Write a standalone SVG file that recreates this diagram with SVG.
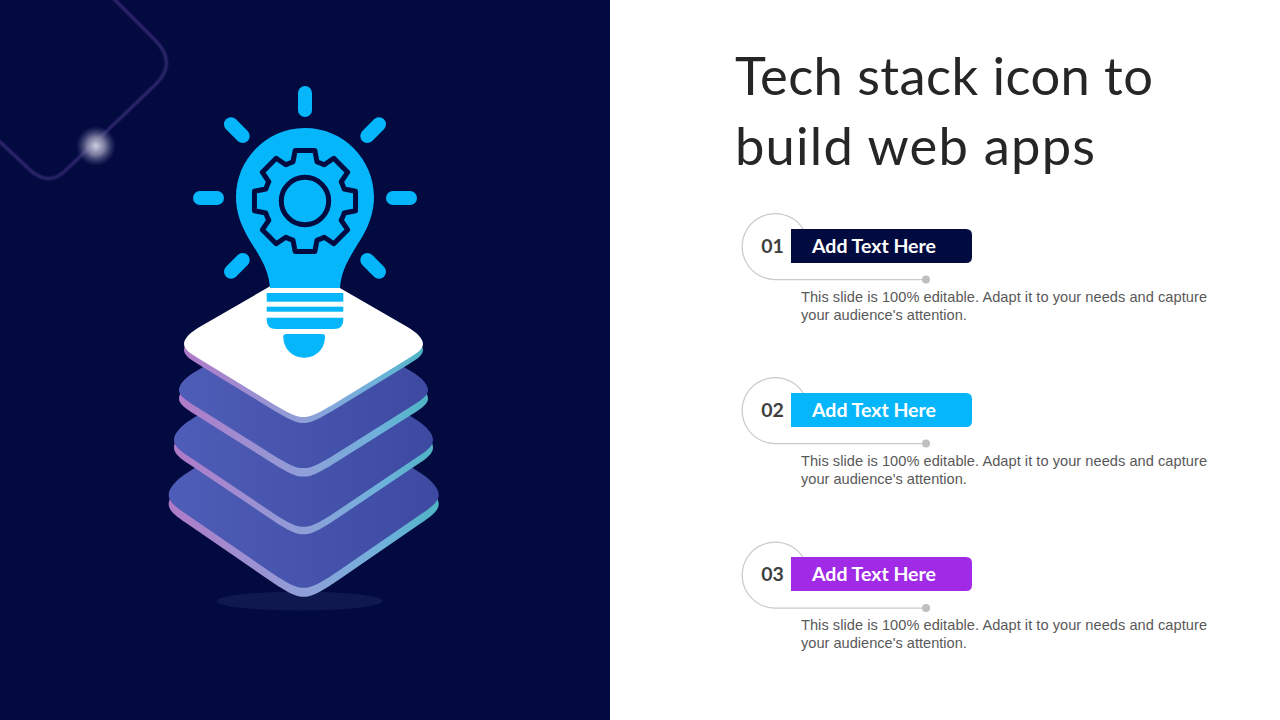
<svg xmlns="http://www.w3.org/2000/svg" width="1280" height="720" viewBox="0 0 1280 720">
<style>
.ray{stroke:#06b6fb;stroke-width:14;stroke-linecap:round;fill:none}
.bulb{fill:#06b6fb}
.gear{fill:none;stroke:#020b3f;stroke-width:5;stroke-linejoin:round}
.title{font-family:"Lato","Carlito","Liberation Sans",sans-serif;font-size:52.5px;fill:#262626}
.num{font-family:"Lato","Liberation Sans",sans-serif;font-weight:700;font-size:19.5px;fill:#404040}
.lab{font-family:"Lato","Liberation Sans",sans-serif;font-weight:700;font-size:19.5px;fill:#fff}
.body{font-family:"Liberation Sans",Arial,sans-serif;font-size:14.6px;fill:#595959}
.arc{fill:none;stroke:#c9c9c9;stroke-width:1.2}
.dot{fill:#bfbfbf}
</style>
<defs>
<path id="plate" d="M0 -77L104 -17C114 -11.2 119.5 -5 119.5 0C119.5 5 114 9 104 15L32 59C12 71.2 6 73 0 73C-6 73 -12 71.2 -32 59L-104 15C-114 9 -119.5 5 -119.5 0C-119.5 -5 -114 -11.2 -104 -17Z"/>
<linearGradient id="rim" x1="0" x2="1" y1="0" y2="0"><stop offset="0" stop-color="#b07ac8"/><stop offset=".5" stop-color="#8f9fd8"/><stop offset=".8" stop-color="#6fb2dc"/><stop offset="1" stop-color="#4fb4c4"/></linearGradient>
<linearGradient id="blue" x1="0" x2="1" y1="0" y2="0"><stop offset="0" stop-color="#4e5db7"/><stop offset="1" stop-color="#3e4aa2"/></linearGradient>
<radialGradient id="glow"><stop offset="0" stop-color="#cfcfe0"/><stop offset=".45" stop-color="#8f8fb0" stop-opacity=".85"/><stop offset="1" stop-color="#5a5a8c" stop-opacity="0"/></radialGradient>
<filter id="soft" x="-10%" y="-10%" width="120%" height="120%"><feGaussianBlur stdDeviation=".8"/></filter>
</defs>
<rect width="1280" height="720" fill="#fff"/>
<rect id="panel" width="610" height="720" fill="#020a40"/>
<g id="decor">
<path d="M113 -2L155 40Q178 63 155 85L68 168Q50 188 30 170L-2 140" fill="none" stroke="#3a2f78" stroke-width="2.5" filter="url(#soft)"/>
<circle cx="96" cy="146" r="20" fill="url(#glow)"/>
</g>
<g id="stack">
<ellipse cx="299.5" cy="601" rx="83" ry="9.5" fill="#101850"/>
<g id="layer4"><use href="#plate" fill="url(#rim)" transform="translate(303.7 504) scale(1.13 1.27)"/><use href="#plate" fill="url(#blue)" transform="translate(303.7 495) scale(1.13 1.27)"/></g>
<g id="layer3"><use href="#plate" fill="url(#rim)" transform="translate(303.5 447.5) scale(1.084 1.19)"/><use href="#plate" fill="url(#blue)" transform="translate(303.5 440) scale(1.084 1.19)"/></g>
<g id="layer2"><use href="#plate" fill="url(#rim)" transform="translate(303.5 398.5) scale(1.042 1.07)"/><use href="#plate" fill="url(#blue)" transform="translate(303.5 390) scale(1.042 1.07)"/></g>
<g id="layer1"><use href="#plate" fill="url(#rim)" transform="translate(303.5 350)"/><use href="#plate" fill="#fff" transform="translate(303.5 344)"/></g>
</g>
<g id="bulb">
<line class="ray" x1="305" y1="93" x2="305" y2="110"/>
<line class="ray" x1="200" y1="198" x2="217" y2="198"/>
<line class="ray" x1="393" y1="198" x2="410" y2="198"/>
<line class="ray" x1="231" y1="124.3" x2="242.7" y2="136"/>
<line class="ray" x1="379" y1="124.3" x2="367.3" y2="136"/>
<line class="ray" x1="231" y1="271.7" x2="242.7" y2="260"/>
<line class="ray" x1="379" y1="271.7" x2="367.3" y2="260"/>
<path class="bulb" d="M305 128C343 128 374 159 374 197C374 222 360 240 353 252C345 265 341 275 340 288L270 288C269 275 265 265 257 252C250 240 236 222 236 197C236 159 267 128 305 128Z"/>
<rect class="bulb" x="266.7" y="293" width="76.6" height="8.7"/>
<rect class="bulb" x="266.7" y="306.7" width="76.6" height="5"/>
<path class="bulb" d="M266.7 317.7H343.3V320Q343.3 329 334 329H276Q266.7 329 266.7 320Z"/>
<path class="bulb" d="M286 334H322.5Q325 334 325 336.5C325 349 316 357.7 304.2 357.7C292.5 357.7 283.3 349 283.3 336.5Q283.3 334 286 334Z"/>
<g transform="translate(305 201)">
<path class="gear" d="M-11.99 -39.2L-9.83 -50.55H9.83L11.99 -39.2A41 41 0 0 1 19.25 -36.2L28.8 -42.7L42.7 -28.8L36.2 -19.25A41 41 0 0 1 39.2 -11.99L50.55 -9.83V9.83L39.2 11.99A41 41 0 0 1 36.2 19.25L42.7 28.8L28.8 42.7L19.25 36.2A41 41 0 0 1 11.99 39.2L9.83 50.55H-9.83L-11.99 39.2A41 41 0 0 1 -19.25 36.2L-28.8 42.7L-42.7 28.8L-36.2 19.25A41 41 0 0 1 -39.2 11.99L-50.55 9.83V-9.83L-39.2 -11.99A41 41 0 0 1 -36.2 -19.25L-42.7 -28.8L-28.8 -42.7L-19.25 -36.2A41 41 0 0 1 -11.99 -39.2Z"/>
<circle class="gear" r="23.7"/>
</g>
</g>
<g id="title">
<text class="title" x="735" y="95" textLength="418">Tech stack icon to</text>
<text class="title" x="735" y="165" textLength="360">build web apps</text>
</g>
<g id="connectors">
<path class="arc" d="M803.1 229A33 33 0 1 0 775 279.6H926"/>
<circle class="dot" cx="926" cy="279.6" r="4"/>
<path class="arc" d="M803.1 393A33 33 0 1 0 775 443.6H926"/>
<circle class="dot" cx="926" cy="443.6" r="4"/>
<path class="arc" d="M803.1 557.5A33 33 0 1 0 775 608.1H926"/>
<circle class="dot" cx="926" cy="608.1" r="4"/>
</g>
<g id="item1">
<text class="num" x="772.5" y="253" text-anchor="middle">01</text>
<path d="M791 229H966Q972 229 972 235V257Q972 263 966 263H791Z" fill="#020b3f"/>
<text class="lab" x="812" y="253">Add Text Here</text>
<text class="body" x="801" y="302" textLength="406">This slide is 100% editable. Adapt it to your needs and capture</text>
<text class="body" x="801" y="320">your audience's attention.</text>
</g>
<g id="item2">
<text class="num" x="772.5" y="417" text-anchor="middle">02</text>
<path d="M791 393H966Q972 393 972 399V421Q972 427 966 427H791Z" fill="#06b6fb"/>
<text class="lab" x="812" y="417">Add Text Here</text>
<text class="body" x="801" y="466" textLength="406">This slide is 100% editable. Adapt it to your needs and capture</text>
<text class="body" x="801" y="484">your audience's attention.</text>
</g>
<g id="item3">
<text class="num" x="772.5" y="581" text-anchor="middle">03</text>
<path d="M791 557H966Q972 557 972 563V585Q972 591 966 591H791Z" fill="#a02ae6"/>
<text class="lab" x="812" y="581">Add Text Here</text>
<text class="body" x="801" y="630" textLength="406">This slide is 100% editable. Adapt it to your needs and capture</text>
<text class="body" x="801" y="648">your audience's attention.</text>
</g>
</svg>
